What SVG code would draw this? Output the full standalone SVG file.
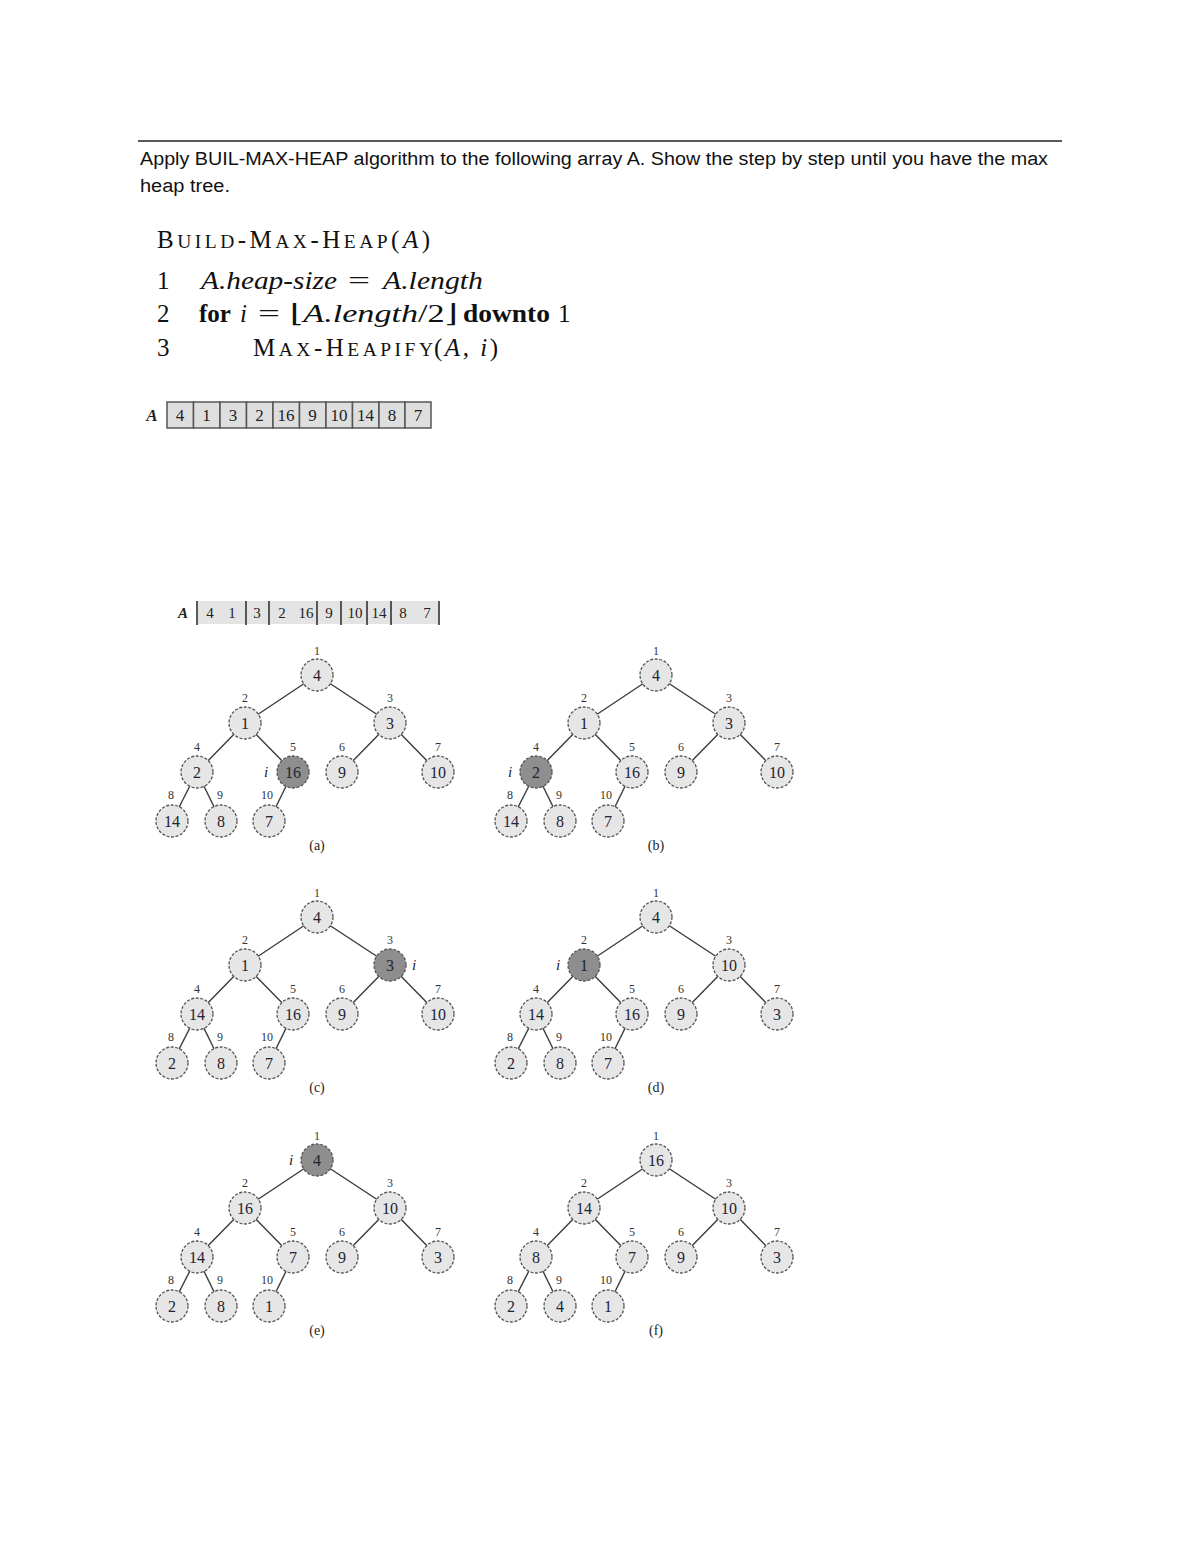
<svg xmlns="http://www.w3.org/2000/svg" xmlns:xlink="http://www.w3.org/1999/xlink" width="1200" height="1553" viewBox="0 0 1200 1553">
<style>
.hdr{font-family:"Liberation Sans","DejaVu Sans",sans-serif;font-size:18px;fill:#111}
.code{font-family:"Liberation Serif","DejaVu Serif",serif;font-size:25px;fill:#111}
.sc{font-size:19.5px}
.it{font-style:italic}
.bd{font-weight:bold}
.cell{fill:#dedede;stroke:#555;stroke-width:1.5}
.cellt{font-family:"Liberation Serif","DejaVu Serif",serif;font-size:17px;fill:#222;text-anchor:middle}
.arr2{font-family:"Liberation Serif","DejaVu Serif",serif;font-size:15px;fill:#222;text-anchor:middle}
.nd{fill:#e6e6e6;stroke:#555;stroke-width:1.3;stroke-dasharray:3 1.6}
.nd.hl{fill:#8e8e8e}
.nv{font-family:"Liberation Serif","DejaVu Serif",serif;font-size:16px;fill:#1f2333;text-anchor:middle}
.ix{font-family:"Liberation Serif","DejaVu Serif",serif;font-size:12px;fill:#333;text-anchor:middle}
.iv{font-family:"Liberation Serif","DejaVu Serif",serif;font-size:15px;font-style:italic;fill:#223;text-anchor:middle}
.cap{font-family:"Liberation Serif","DejaVu Serif",serif;font-size:14px;fill:#222;text-anchor:middle}
.edge{stroke:#3a3a3a;stroke-width:1.4;fill:none}
</style>
<defs>
<g id="edges" class="edge">
<line x1="317" y1="675" x2="245" y2="723"/>
<line x1="317" y1="675" x2="390" y2="723"/>
<line x1="245" y1="723" x2="197" y2="772"/>
<line x1="245" y1="723" x2="293" y2="772"/>
<line x1="390" y1="723" x2="342" y2="772"/>
<line x1="390" y1="723" x2="438" y2="772"/>
<line x1="197" y1="772" x2="172" y2="821"/>
<line x1="197" y1="772" x2="221" y2="821"/>
<line x1="293" y1="772" x2="269" y2="821"/>
</g>
<g id="idx">
<text class="ix" x="317" y="655">1</text>
<text class="ix" x="245" y="702">2</text>
<text class="ix" x="390" y="702">3</text>
<text class="ix" x="197" y="751">4</text>
<text class="ix" x="293" y="751">5</text>
<text class="ix" x="342" y="751">6</text>
<text class="ix" x="438" y="751">7</text>
<text class="ix" x="171" y="799">8</text>
<text class="ix" x="220" y="799">9</text>
<text class="ix" x="267" y="799">10</text>
</g>
</defs>

<line x1="138" y1="141" x2="1062" y2="141" stroke="#222" stroke-width="1.3"/>
<text class="hdr" x="140" y="165" textLength="908" lengthAdjust="spacingAndGlyphs">Apply BUIL-MAX-HEAP algorithm to the following array A. Show the step by step until you have the max</text>
<text class="hdr" x="140" y="192" textLength="90" lengthAdjust="spacingAndGlyphs">heap tree.</text>

<g id="pseudocode">
<text class="code" x="157" y="248" textLength="273" lengthAdjust="spacing">B<tspan class="sc">UILD</tspan>-M<tspan class="sc">AX</tspan>-H<tspan class="sc">EAP</tspan>(<tspan class="it">A</tspan>)</text>
<text class="code" x="157" y="289">1</text>
<text class="code it" x="201" y="289" textLength="136" lengthAdjust="spacingAndGlyphs">A.heap-size</text>
<text class="code" x="348" y="289" textLength="22" lengthAdjust="spacingAndGlyphs">=</text>
<text class="code it" x="383" y="289" textLength="100" lengthAdjust="spacingAndGlyphs">A.length</text>
<text class="code" x="157" y="322">2</text>
<text class="code bd" x="199" y="322">for</text>
<text class="code it" x="240" y="322">i</text>
<text class="code" x="258" y="322" textLength="22" lengthAdjust="spacingAndGlyphs">=</text>
<text class="code" x="290" y="322" textLength="168" lengthAdjust="spacingAndGlyphs">⌊<tspan class="it">A.length</tspan>/2⌋</text>
<text class="code bd" x="463" y="322" textLength="87" lengthAdjust="spacingAndGlyphs">downto</text>
<text class="code" x="558" y="322">1</text>
<text class="code" x="157" y="356">3</text>
<text class="code" x="253" y="356" textLength="180" lengthAdjust="spacing">M<tspan class="sc">AX</tspan>-H<tspan class="sc">EAPIFY</tspan></text>
<text class="code" x="434" y="356" textLength="64" lengthAdjust="spacing">(<tspan class="it">A</tspan>, <tspan class="it">i</tspan>)</text>
</g>

<g id="array-top">
<text class="cellt it" x="152" y="421" font-size="15" font-weight="bold">A</text>
<rect class="cell" x="167" y="402" width="26.5" height="26"/>
<rect class="cell" x="193.5" y="402" width="26.5" height="26"/>
<rect class="cell" x="220" y="402" width="26.5" height="26"/>
<rect class="cell" x="246.5" y="402" width="26.5" height="26"/>
<rect class="cell" x="273" y="402" width="26.5" height="26"/>
<rect class="cell" x="299.5" y="402" width="26.5" height="26"/>
<rect class="cell" x="326" y="402" width="26.5" height="26"/>
<rect class="cell" x="352.5" y="402" width="26.5" height="26"/>
<rect class="cell" x="379" y="402" width="26" height="26"/>
<rect class="cell" x="405" y="402" width="26" height="26"/>
<text class="cellt" x="180" y="421">4</text>
<text class="cellt" x="206.5" y="421">1</text>
<text class="cellt" x="233" y="421">3</text>
<text class="cellt" x="259.5" y="421">2</text>
<text class="cellt" x="286" y="421">16</text>
<text class="cellt" x="312.5" y="421">9</text>
<text class="cellt" x="339" y="421">10</text>
<text class="cellt" x="365.5" y="421">14</text>
<text class="cellt" x="392" y="421">8</text>
<text class="cellt" x="418" y="421">7</text>
</g>

<g id="array-second">
<text class="arr2 it" x="183" y="618" font-size="13" font-weight="bold">A</text>
<rect x="197" y="601" width="242" height="23" fill="#e4e4e4"/>
<g stroke="#333" stroke-width="1.6">
<line x1="197" y1="601" x2="197" y2="625"/>
<line x1="246" y1="601" x2="246" y2="625"/>
<line x1="269" y1="601" x2="269" y2="625"/>
<line x1="317" y1="601" x2="317" y2="625"/>
<line x1="341" y1="601" x2="341" y2="625"/>
<line x1="367" y1="601" x2="367" y2="625"/>
<line x1="391" y1="601" x2="391" y2="625"/>
<line x1="439" y1="601" x2="439" y2="625"/>
</g>
<text class="arr2" x="210" y="618" fill="#888">4</text>
<text class="arr2" x="232" y="618" fill="#888">1</text>
<text class="arr2" x="257" y="618">3</text>
<text class="arr2" x="282" y="618">2</text>
<text class="arr2" x="306" y="618">16</text>
<text class="arr2" x="329" y="618">9</text>
<text class="arr2" x="355" y="618">10</text>
<text class="arr2" x="379" y="618">14</text>
<text class="arr2" x="403" y="618">8</text>
<text class="arr2" x="427" y="618">7</text>
</g>

<g id="connectors">
<use xlink:href="#edges" href="#edges"/>
<use xlink:href="#edges" href="#edges" x="339" y="0"/>
<use xlink:href="#edges" href="#edges" x="0" y="242"/>
<use xlink:href="#edges" href="#edges" x="339" y="242"/>
<use xlink:href="#edges" href="#edges" x="0" y="485"/>
<use xlink:href="#edges" href="#edges" x="339" y="485"/>
</g>

<!-- Tree (a) -->
<g id="tree-a">
<use xlink:href="#idx" href="#idx"/>
<g id="a1"><circle class="nd" cx="317" cy="675" r="16"/><text class="nv" x="317" y="680.5">4</text></g>
<g id="a2"><circle class="nd" cx="245" cy="723" r="16"/><text class="nv" x="245" y="728.5">1</text></g>
<g id="a3"><circle class="nd" cx="390" cy="723" r="16"/><text class="nv" x="390" y="728.5">3</text></g>
<g id="a4"><circle class="nd" cx="197" cy="772" r="16"/><text class="nv" x="197" y="777.5">2</text></g>
<g id="a5"><circle class="nd hl" cx="293" cy="772" r="16"/><text class="nv" x="293" y="777.5">16</text></g>
<g id="a6"><circle class="nd" cx="342" cy="772" r="16"/><text class="nv" x="342" y="777.5">9</text></g>
<g id="a7"><circle class="nd" cx="438" cy="772" r="16"/><text class="nv" x="438" y="777.5">10</text></g>
<g id="a8"><circle class="nd" cx="172" cy="821" r="16"/><text class="nv" x="172" y="826.5">14</text></g>
<g id="a9"><circle class="nd" cx="221" cy="821" r="16"/><text class="nv" x="221" y="826.5">8</text></g>
<g id="a10"><circle class="nd" cx="269" cy="821" r="16"/><text class="nv" x="269" y="826.5">7</text></g>
<text class="iv" x="266" y="777">i</text>
<text class="cap" x="317" y="850">(a)</text>
</g>

<!-- Tree (b) -->
<g id="tree-b" transform="translate(339,0)">
<use xlink:href="#idx" href="#idx"/>
<g id="b1"><circle class="nd" cx="317" cy="675" r="16"/><text class="nv" x="317" y="680.5">4</text></g>
<g id="b2"><circle class="nd" cx="245" cy="723" r="16"/><text class="nv" x="245" y="728.5">1</text></g>
<g id="b3"><circle class="nd" cx="390" cy="723" r="16"/><text class="nv" x="390" y="728.5">3</text></g>
<g id="b4"><circle class="nd hl" cx="197" cy="772" r="16"/><text class="nv" x="197" y="777.5">2</text></g>
<g id="b5"><circle class="nd" cx="293" cy="772" r="16"/><text class="nv" x="293" y="777.5">16</text></g>
<g id="b6"><circle class="nd" cx="342" cy="772" r="16"/><text class="nv" x="342" y="777.5">9</text></g>
<g id="b7"><circle class="nd" cx="438" cy="772" r="16"/><text class="nv" x="438" y="777.5">10</text></g>
<g id="b8"><circle class="nd" cx="172" cy="821" r="16"/><text class="nv" x="172" y="826.5">14</text></g>
<g id="b9"><circle class="nd" cx="221" cy="821" r="16"/><text class="nv" x="221" y="826.5">8</text></g>
<g id="b10"><circle class="nd" cx="269" cy="821" r="16"/><text class="nv" x="269" y="826.5">7</text></g>
<text class="iv" x="171" y="777">i</text>
<text class="cap" x="317" y="850">(b)</text>
</g>

<!-- Tree (c) -->
<g id="tree-c" transform="translate(0,242)">
<use xlink:href="#idx" href="#idx"/>
<g id="c1"><circle class="nd" cx="317" cy="675" r="16"/><text class="nv" x="317" y="680.5">4</text></g>
<g id="c2"><circle class="nd" cx="245" cy="723" r="16"/><text class="nv" x="245" y="728.5">1</text></g>
<g id="c3"><circle class="nd hl" cx="390" cy="723" r="16"/><text class="nv" x="390" y="728.5">3</text></g>
<g id="c4"><circle class="nd" cx="197" cy="772" r="16"/><text class="nv" x="197" y="777.5">14</text></g>
<g id="c5"><circle class="nd" cx="293" cy="772" r="16"/><text class="nv" x="293" y="777.5">16</text></g>
<g id="c6"><circle class="nd" cx="342" cy="772" r="16"/><text class="nv" x="342" y="777.5">9</text></g>
<g id="c7"><circle class="nd" cx="438" cy="772" r="16"/><text class="nv" x="438" y="777.5">10</text></g>
<g id="c8"><circle class="nd" cx="172" cy="821" r="16"/><text class="nv" x="172" y="826.5">2</text></g>
<g id="c9"><circle class="nd" cx="221" cy="821" r="16"/><text class="nv" x="221" y="826.5">8</text></g>
<g id="c10"><circle class="nd" cx="269" cy="821" r="16"/><text class="nv" x="269" y="826.5">7</text></g>
<text class="iv" x="414" y="728">i</text>
<text class="cap" x="317" y="850">(c)</text>
</g>

<!-- Tree (d) -->
<g id="tree-d" transform="translate(339,242)">
<use xlink:href="#idx" href="#idx"/>
<g id="d1"><circle class="nd" cx="317" cy="675" r="16"/><text class="nv" x="317" y="680.5">4</text></g>
<g id="d2"><circle class="nd hl" cx="245" cy="723" r="16"/><text class="nv" x="245" y="728.5">1</text></g>
<g id="d3"><circle class="nd" cx="390" cy="723" r="16"/><text class="nv" x="390" y="728.5">10</text></g>
<g id="d4"><circle class="nd" cx="197" cy="772" r="16"/><text class="nv" x="197" y="777.5">14</text></g>
<g id="d5"><circle class="nd" cx="293" cy="772" r="16"/><text class="nv" x="293" y="777.5">16</text></g>
<g id="d6"><circle class="nd" cx="342" cy="772" r="16"/><text class="nv" x="342" y="777.5">9</text></g>
<g id="d7"><circle class="nd" cx="438" cy="772" r="16"/><text class="nv" x="438" y="777.5">3</text></g>
<g id="d8"><circle class="nd" cx="172" cy="821" r="16"/><text class="nv" x="172" y="826.5">2</text></g>
<g id="d9"><circle class="nd" cx="221" cy="821" r="16"/><text class="nv" x="221" y="826.5">8</text></g>
<g id="d10"><circle class="nd" cx="269" cy="821" r="16"/><text class="nv" x="269" y="826.5">7</text></g>
<text class="iv" x="219" y="728">i</text>
<text class="cap" x="317" y="850">(d)</text>
</g>

<!-- Tree (e) -->
<g id="tree-e" transform="translate(0,485)">
<use xlink:href="#idx" href="#idx"/>
<g id="e1"><circle class="nd hl" cx="317" cy="675" r="16"/><text class="nv" x="317" y="680.5">4</text></g>
<g id="e2"><circle class="nd" cx="245" cy="723" r="16"/><text class="nv" x="245" y="728.5">16</text></g>
<g id="e3"><circle class="nd" cx="390" cy="723" r="16"/><text class="nv" x="390" y="728.5">10</text></g>
<g id="e4"><circle class="nd" cx="197" cy="772" r="16"/><text class="nv" x="197" y="777.5">14</text></g>
<g id="e5"><circle class="nd" cx="293" cy="772" r="16"/><text class="nv" x="293" y="777.5">7</text></g>
<g id="e6"><circle class="nd" cx="342" cy="772" r="16"/><text class="nv" x="342" y="777.5">9</text></g>
<g id="e7"><circle class="nd" cx="438" cy="772" r="16"/><text class="nv" x="438" y="777.5">3</text></g>
<g id="e8"><circle class="nd" cx="172" cy="821" r="16"/><text class="nv" x="172" y="826.5">2</text></g>
<g id="e9"><circle class="nd" cx="221" cy="821" r="16"/><text class="nv" x="221" y="826.5">8</text></g>
<g id="e10"><circle class="nd" cx="269" cy="821" r="16"/><text class="nv" x="269" y="826.5">1</text></g>
<text class="iv" x="291" y="680">i</text>
<text class="cap" x="317" y="850">(e)</text>
</g>

<!-- Tree (f) -->
<g id="tree-f" transform="translate(339,485)">
<use xlink:href="#idx" href="#idx"/>
<g id="f1"><circle class="nd" cx="317" cy="675" r="16"/><text class="nv" x="317" y="680.5">16</text></g>
<g id="f2"><circle class="nd" cx="245" cy="723" r="16"/><text class="nv" x="245" y="728.5">14</text></g>
<g id="f3"><circle class="nd" cx="390" cy="723" r="16"/><text class="nv" x="390" y="728.5">10</text></g>
<g id="f4"><circle class="nd" cx="197" cy="772" r="16"/><text class="nv" x="197" y="777.5">8</text></g>
<g id="f5"><circle class="nd" cx="293" cy="772" r="16"/><text class="nv" x="293" y="777.5">7</text></g>
<g id="f6"><circle class="nd" cx="342" cy="772" r="16"/><text class="nv" x="342" y="777.5">9</text></g>
<g id="f7"><circle class="nd" cx="438" cy="772" r="16"/><text class="nv" x="438" y="777.5">3</text></g>
<g id="f8"><circle class="nd" cx="172" cy="821" r="16"/><text class="nv" x="172" y="826.5">2</text></g>
<g id="f9"><circle class="nd" cx="221" cy="821" r="16"/><text class="nv" x="221" y="826.5">4</text></g>
<g id="f10"><circle class="nd" cx="269" cy="821" r="16"/><text class="nv" x="269" y="826.5">1</text></g>
<text class="cap" x="317" y="850">(f)</text>
</g>
</svg>
